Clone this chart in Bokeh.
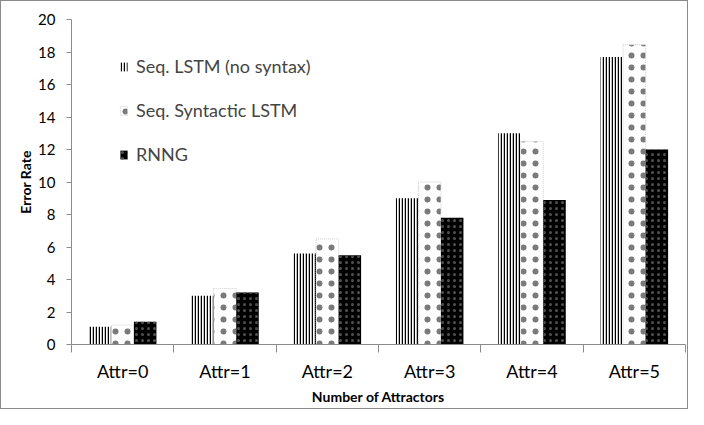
from bokeh.plotting import figure
from bokeh.models import FixedTicker, ColumnDataSource
from bokeh.embed import file_html
from bokeh.resources import INLINE

categories = ["Attr=0", "Attr=1", "Attr=2", "Attr=3", "Attr=4", "Attr=5"]
seq_lstm = [1.1, 3.0, 5.6, 9.0, 13.0, 17.7]
seq_syntactic = [1.2, 3.45, 6.5, 10.0, 12.5, 18.45]
rnng = [1.4, 3.2, 5.5, 7.8, 8.9, 12.0]
y_ticks = [0, 2, 4, 6, 8, 10, 12, 14, 16, 18, 20]

font = "Lato"
bar_w = 0.22
centers = [i + 0.5 for i in range(len(categories))]

p = figure(width=688, height=409, x_range=(0, len(categories)), y_range=(0, 20),
           output_backend="svg", toolbar_location=None, tools="",
           min_border_left=70, min_border_right=4, min_border_top=18, min_border_bottom=66)
p.styles = {"border": "1px solid #8c8c8c", "box-sizing": "border-box"}
p.outline_line_color = None
p.grid.visible = False

src = ColumnDataSource(dict(
    x1=[c - bar_w for c in centers], x2=centers, x3=[c + bar_w for c in centers],
    lstm=seq_lstm, syn=seq_syntactic, rnng=rnng))

p.vbar(x="x1", top="lstm", width=bar_w, source=src, fill_color="white", line_color=None,
       hatch_pattern="vertical_line", hatch_color="black", hatch_scale=3, hatch_weight=1.5,
       legend_label="Seq. LSTM (no syntax)")
p.vbar(x="x2", top="syn", width=bar_w, source=src, fill_color="white",
       line_color="#cfcfcf", line_dash="1 1", line_width=1,
       hatch_pattern="dot", hatch_color="#7a7a7a", hatch_scale=12, hatch_weight=1,
       legend_label="Seq. Syntactic LSTM")
p.vbar(x="x3", top="rnng", width=bar_w, source=src, fill_color="black", line_color=None,
       hatch_pattern="dot", hatch_color="#505050", hatch_scale=6, hatch_weight=1,
       legend_label="RNNG")

# x axis: labels at group centres, ticks at the boundaries
p.xaxis.ticker = FixedTicker(ticks=centers, minor_ticks=list(range(len(categories) + 1)))
p.xaxis.major_label_overrides = {c: name for c, name in zip(centers, categories)}
p.xaxis.major_tick_line_color = None
p.xaxis.major_tick_out = 0
p.xaxis.minor_tick_in = 0
p.xaxis.minor_tick_out = 8
p.xaxis.minor_tick_line_color = "#8c8c8c"
p.xaxis.axis_line_color = "#8c8c8c"
p.xaxis.major_label_standoff = 7
p.xaxis.axis_label = "Number of Attractors"
p.xaxis.axis_label_standoff = 3

p.yaxis.ticker = FixedTicker(ticks=y_ticks)
p.yaxis.minor_tick_line_color = None
p.yaxis.major_tick_in = 0
p.yaxis.major_tick_out = 5
p.yaxis.major_tick_line_color = "#8c8c8c"
p.yaxis.axis_line_color = "#8c8c8c"
p.yaxis.major_label_standoff = 11
p.yaxis.axis_label = "Error Rate"
p.yaxis.axis_label_standoff = 1

for ax in (p.xaxis, p.yaxis):
    ax.major_label_text_font = font
    ax.major_label_text_color = "black"
    ax.axis_label_text_font = font
    ax.axis_label_text_font_style = "bold"
    ax.axis_label_text_font_size = "14px"
    ax.axis_label_text_color = "black"
p.xaxis.major_label_text_font_size = "18px"
p.yaxis.major_label_text_font_size = "15px"

lg = p.legend[0]
lg.location = (48, 179)
lg.border_line_color = None
lg.background_fill_alpha = 0
lg.padding = 0
lg.margin = 0
lg.glyph_width = 9
lg.glyph_height = 11
lg.label_height = 22
lg.spacing = 22
lg.label_standoff = 8
lg.label_text_font = font
lg.label_text_font_size = "18px"

open("out.html", "w").write(file_html(p, INLINE))
